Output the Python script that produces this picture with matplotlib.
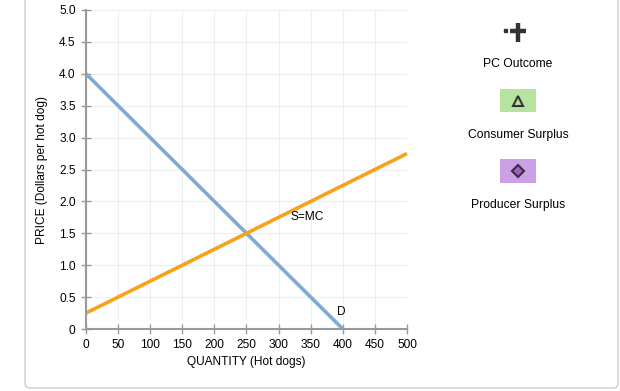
import matplotlib.pyplot as plt
import numpy as np
from matplotlib.patches import FancyBboxPatch, Rectangle

plt.rcParams['font.family'] = ['Liberation Sans', 'DejaVu Sans']

# Demand and supply endpoints
demand_q = [0, 400]
demand_p = [4.0, 0.0]
supply_q = [0, 500]
supply_p = [0.25, 2.75]

xticks = [0, 50, 100, 150, 200, 250, 300, 350, 400, 450, 500]
yticks = [0, 0.5, 1.0, 1.5, 2.0, 2.5, 3.0, 3.5, 4.0, 4.5, 5.0]
ytick_labels = ['0', '0.5', '1.0', '1.5', '2.0', '2.5', '3.0', '3.5', '4.0', '4.5', '5.0']

legend_items = ['PC Outcome', 'Consumer Surplus', 'Producer Surplus']

fig = plt.figure(figsize=(6.2, 3.91), dpi=100)

# background panel (pixel coordinates)
bg = fig.add_axes([0, 0, 1, 1])
bg.set_xlim(0, 620)
bg.set_ylim(391, 0)
bg.axis('off')
bg.add_patch(FancyBboxPatch((25, -10), 593, 398, boxstyle='round,pad=0,rounding_size=5',
                            fc='white', ec='#cccccc', lw=1))

ax = fig.add_axes([86 / 620, 62 / 391, 321 / 620, 319 / 391])
ax.set_xlim(0, 500)
ax.set_ylim(0, 5)
ax.set_xticks(xticks)
ax.set_yticks(yticks)
ax.set_yticklabels(ytick_labels)
ax.grid(True, color='#eeeeee', lw=0.8)
ax.set_axisbelow(True)
for s in ['top', 'right']:
    ax.spines[s].set_visible(False)
for s in ['left', 'bottom']:
    ax.spines[s].set_color('#999999')
    ax.spines[s].set_linewidth(1.5)
ax.tick_params(direction='inout', length=7, width=1, color='#999999', labelsize=8.6, pad=4)
ax.patch.set_alpha(0)

ax.plot(demand_q, demand_p, color='#80aad6', lw=2.6, solid_capstyle='butt', clip_on=False)
ax.plot(supply_q, supply_p, color='#f7a21b', lw=2.6, solid_capstyle='butt', clip_on=False)
ax.text(318, 1.75, 'S=MC', fontsize=8.6, va='center', ha='left')
ax.text(391, 0.27, 'D', fontsize=8.6, va='center', ha='left')

ax.set_xlabel('QUANTITY (Hot dogs)', fontsize=8.6, labelpad=3)
ax.set_ylabel('PRICE (Dollars per hot dog)', fontsize=8.6, labelpad=8)

# legend icons on the right
cx = 518
bg.plot([cx, cx], [23, 42], color='#333333', lw=3.2, solid_capstyle='butt')
bg.plot([510, 526], [31, 31], color='#333333', lw=3.2, solid_capstyle='butt')
bg.add_patch(Rectangle((504, 29), 3, 3, color='#333333'))
bg.add_patch(Rectangle((516, 37.5), 4, 1.5, color='white'))
bg.text(cx, 64, legend_items[0], fontsize=8.7, ha='center', va='center')

bg.add_patch(Rectangle((500, 89), 36, 23, fc='#b7e3a0', ec='none'))
bg.plot([cx], [101], marker='^', ms=7, mfc='#b7e3a0', mec='#333333', mew=1.5)
bg.text(cx, 135, legend_items[1], fontsize=8.7, ha='center', va='center')

bg.add_patch(Rectangle((500, 159), 36, 24, fc='#cba0e6', ec='none'))
bg.plot([cx], [171], marker='D', ms=6, mfc='#a45ad0', mec='#333333', mew=1.5)
bg.text(cx, 205, legend_items[2], fontsize=8.7, ha='center', va='center')

fig.savefig('out.png', dpi=100)
